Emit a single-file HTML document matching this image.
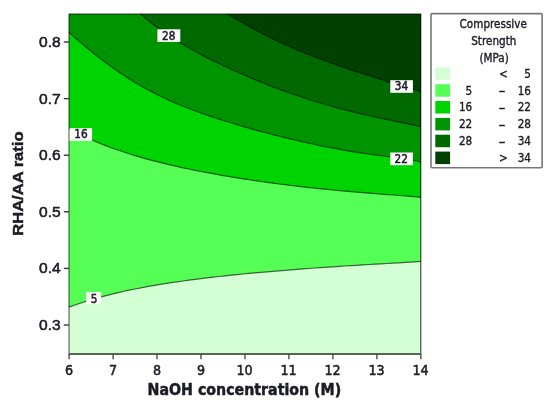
<!DOCTYPE html>
<html lang="en"><head><meta charset="utf-8"><title>Contour plot of compressive strength</title>
<style>
html,body{margin:0;padding:0;background:#fff;}
body{width:550px;height:404px;overflow:hidden;}
svg{display:block;}
text{fill:#1c1c24;}
.yt{font-family:"Liberation Sans","DejaVu Sans",sans-serif;font-size:15.2px;stroke:#1c1c24;stroke-width:0.55px;}
.xt{font-family:"DejaVu Sans","Liberation Sans",sans-serif;font-stretch:condensed;font-size:14.2px;stroke:#1c1c24;stroke-width:0.5px;}
.xl{font-family:"DejaVu Sans","Liberation Sans",sans-serif;font-weight:bold;font-size:14px;stroke:#1c1c24;stroke-width:0.45px;}
.yl{font-family:"Liberation Sans","DejaVu Sans",sans-serif;font-weight:bold;font-size:15px;stroke:#1c1c24;stroke-width:0.45px;}
.cl{font-family:"DejaVu Sans","Liberation Sans",sans-serif;font-stretch:condensed;font-size:11.7px;stroke:#1c1c24;stroke-width:0.5px;}
.lg{font-family:"DejaVu Sans","Liberation Sans",sans-serif;font-stretch:condensed;font-size:11.6px;stroke:#1c1c24;stroke-width:0.35px;}
.ds{font-size:14.5px;}
</style></head>
<body>
<svg width="550" height="404" viewBox="0 0 550 404">
<rect x="0" y="0" width="550" height="404" fill="#ffffff"/>
<rect x="69.0" y="14.0" width="352.0" height="341.0" fill="#004000"/>
<polygon points="227.5,14.0 233.5,17.5 239.5,21.0 245.5,24.4 251.5,27.7 257.5,31.0 263.5,34.1 269.5,37.2 275.5,40.1 281.5,43.0 287.5,45.8 293.5,48.4 299.5,51.0 305.5,53.4 311.5,55.8 317.5,58.1 323.5,60.3 329.5,62.5 335.5,64.6 341.5,66.6 347.5,68.6 353.5,70.6 359.5,72.6 365.5,74.5 371.5,76.5 377.5,78.4 383.5,80.3 389.5,82.2 395.5,84.0 401.5,85.9 407.5,87.7 413.5,89.4 419.5,91.1 421.0,91.5 421.0,355.0 69.0,355.0 69.0,14.0" fill="#006a00"/>
<polygon points="140.5,14.0 146.5,19.0 152.5,23.8 158.5,28.3 164.5,32.5 170.5,36.5 176.5,40.4 182.5,44.1 188.5,47.6 194.5,51.0 200.5,54.2 206.5,57.4 212.5,60.4 218.5,63.3 224.5,66.2 230.5,69.0 236.5,71.7 242.5,74.3 248.5,76.9 254.5,79.4 260.5,81.9 266.5,84.3 272.5,86.6 278.5,88.9 284.5,91.1 290.5,93.2 296.5,95.3 302.5,97.3 308.5,99.3 314.5,101.2 320.5,103.0 326.5,104.8 332.5,106.5 338.5,108.1 344.5,109.7 350.5,111.2 356.5,112.7 362.5,114.1 368.5,115.5 374.5,116.8 380.5,118.1 386.5,119.3 392.5,120.6 398.5,121.8 404.5,123.1 410.5,124.4 416.5,125.7 421.0,126.7 421.0,355.0 69.0,355.0 69.0,14.0" fill="#009500"/>
<polygon points="69.0,32.4 75.0,37.7 81.0,42.8 87.0,47.9 93.0,52.8 99.0,57.6 105.0,62.1 111.0,66.6 117.0,70.8 123.0,74.8 129.0,78.7 135.0,82.4 141.0,85.9 147.0,89.3 153.0,92.4 159.0,95.5 165.0,98.3 171.0,101.1 177.0,103.7 183.0,106.2 189.0,108.5 195.0,110.8 201.0,113.0 207.0,115.1 213.0,117.1 219.0,119.1 225.0,121.0 231.0,122.8 237.0,124.6 243.0,126.4 249.0,128.1 255.0,129.8 261.0,131.4 267.0,133.0 273.0,134.6 279.0,136.1 285.0,137.6 291.0,139.1 297.0,140.5 303.0,141.9 309.0,143.2 315.0,144.5 321.0,145.8 327.0,147.0 333.0,148.1 339.0,149.2 345.0,150.3 351.0,151.3 357.0,152.3 363.0,153.2 369.0,154.0 375.0,154.9 381.0,155.7 387.0,156.5 393.0,157.3 399.0,158.1 405.0,159.0 411.0,159.9 417.0,161.0 421.0,161.8 421.0,355.0 69.0,355.0" fill="#00d400"/>
<polygon points="69.0,128.8 75.0,132.0 81.0,135.0 87.0,137.8 93.0,140.5 99.0,143.0 105.0,145.4 111.0,147.7 117.0,149.8 123.0,151.8 129.0,153.8 135.0,155.6 141.0,157.4 147.0,159.1 153.0,160.7 159.0,162.2 165.0,163.7 171.0,165.1 177.0,166.5 183.0,167.8 189.0,169.0 195.0,170.3 201.0,171.5 207.0,172.6 213.0,173.7 219.0,174.8 225.0,175.8 231.0,176.9 237.0,177.8 243.0,178.8 249.0,179.7 255.0,180.6 261.0,181.5 267.0,182.3 273.0,183.2 279.0,184.0 285.0,184.7 291.0,185.5 297.0,186.2 303.0,186.9 309.0,187.6 315.0,188.2 321.0,188.8 327.0,189.4 333.0,190.0 339.0,190.6 345.0,191.1 351.0,191.7 357.0,192.2 363.0,192.7 369.0,193.2 375.0,193.6 381.0,194.1 387.0,194.6 393.0,195.0 399.0,195.5 405.0,196.0 411.0,196.4 417.0,196.9 421.0,197.3 421.0,355.0 69.0,355.0" fill="#55ff55"/>
<polygon points="69.0,307.1 75.0,305.0 81.0,303.0 87.0,301.0 93.0,299.2 99.0,297.5 105.0,295.9 111.0,294.4 117.0,292.9 123.0,291.5 129.0,290.2 135.0,289.0 141.0,287.8 147.0,286.7 153.0,285.6 159.0,284.6 165.0,283.6 171.0,282.7 177.0,281.8 183.0,281.0 189.0,280.2 195.0,279.4 201.0,278.6 207.0,277.9 213.0,277.2 219.0,276.5 225.0,275.9 231.0,275.2 237.0,274.6 243.0,274.0 249.0,273.4 255.0,272.9 261.0,272.3 267.0,271.8 273.0,271.3 279.0,270.8 285.0,270.3 291.0,269.8 297.0,269.3 303.0,268.9 309.0,268.5 315.0,268.0 321.0,267.6 327.0,267.2 333.0,266.8 339.0,266.4 345.0,266.0 351.0,265.6 357.0,265.3 363.0,264.9 369.0,264.5 375.0,264.2 381.0,263.8 387.0,263.5 393.0,263.1 399.0,262.8 405.0,262.4 411.0,262.1 417.0,261.7 421.0,261.5 421.0,355.0 69.0,355.0" fill="#d4ffd4"/>
<polyline points="227.5,14.0 233.5,17.5 239.5,21.0 245.5,24.4 251.5,27.7 257.5,31.0 263.5,34.1 269.5,37.2 275.5,40.1 281.5,43.0 287.5,45.8 293.5,48.4 299.5,51.0 305.5,53.4 311.5,55.8 317.5,58.1 323.5,60.3 329.5,62.5 335.5,64.6 341.5,66.6 347.5,68.6 353.5,70.6 359.5,72.6 365.5,74.5 371.5,76.5 377.5,78.4 383.5,80.3 389.5,82.2 395.5,84.0 401.5,85.9 407.5,87.7 413.5,89.4 419.5,91.1 421.0,91.5" fill="none" stroke="#001000" stroke-opacity="0.64" stroke-width="1.2" stroke-linejoin="round"/>
<polyline points="140.5,14.0 146.5,19.0 152.5,23.8 158.5,28.3 164.5,32.5 170.5,36.5 176.5,40.4 182.5,44.1 188.5,47.6 194.5,51.0 200.5,54.2 206.5,57.4 212.5,60.4 218.5,63.3 224.5,66.2 230.5,69.0 236.5,71.7 242.5,74.3 248.5,76.9 254.5,79.4 260.5,81.9 266.5,84.3 272.5,86.6 278.5,88.9 284.5,91.1 290.5,93.2 296.5,95.3 302.5,97.3 308.5,99.3 314.5,101.2 320.5,103.0 326.5,104.8 332.5,106.5 338.5,108.1 344.5,109.7 350.5,111.2 356.5,112.7 362.5,114.1 368.5,115.5 374.5,116.8 380.5,118.1 386.5,119.3 392.5,120.6 398.5,121.8 404.5,123.1 410.5,124.4 416.5,125.7 421.0,126.7" fill="none" stroke="#001000" stroke-opacity="0.64" stroke-width="1.2" stroke-linejoin="round"/>
<polyline points="69.0,32.4 75.0,37.7 81.0,42.8 87.0,47.9 93.0,52.8 99.0,57.6 105.0,62.1 111.0,66.6 117.0,70.8 123.0,74.8 129.0,78.7 135.0,82.4 141.0,85.9 147.0,89.3 153.0,92.4 159.0,95.5 165.0,98.3 171.0,101.1 177.0,103.7 183.0,106.2 189.0,108.5 195.0,110.8 201.0,113.0 207.0,115.1 213.0,117.1 219.0,119.1 225.0,121.0 231.0,122.8 237.0,124.6 243.0,126.4 249.0,128.1 255.0,129.8 261.0,131.4 267.0,133.0 273.0,134.6 279.0,136.1 285.0,137.6 291.0,139.1 297.0,140.5 303.0,141.9 309.0,143.2 315.0,144.5 321.0,145.8 327.0,147.0 333.0,148.1 339.0,149.2 345.0,150.3 351.0,151.3 357.0,152.3 363.0,153.2 369.0,154.0 375.0,154.9 381.0,155.7 387.0,156.5 393.0,157.3 399.0,158.1 405.0,159.0 411.0,159.9 417.0,161.0 421.0,161.8" fill="none" stroke="#001000" stroke-opacity="0.64" stroke-width="1.2" stroke-linejoin="round"/>
<polyline points="69.0,128.8 75.0,132.0 81.0,135.0 87.0,137.8 93.0,140.5 99.0,143.0 105.0,145.4 111.0,147.7 117.0,149.8 123.0,151.8 129.0,153.8 135.0,155.6 141.0,157.4 147.0,159.1 153.0,160.7 159.0,162.2 165.0,163.7 171.0,165.1 177.0,166.5 183.0,167.8 189.0,169.0 195.0,170.3 201.0,171.5 207.0,172.6 213.0,173.7 219.0,174.8 225.0,175.8 231.0,176.9 237.0,177.8 243.0,178.8 249.0,179.7 255.0,180.6 261.0,181.5 267.0,182.3 273.0,183.2 279.0,184.0 285.0,184.7 291.0,185.5 297.0,186.2 303.0,186.9 309.0,187.6 315.0,188.2 321.0,188.8 327.0,189.4 333.0,190.0 339.0,190.6 345.0,191.1 351.0,191.7 357.0,192.2 363.0,192.7 369.0,193.2 375.0,193.6 381.0,194.1 387.0,194.6 393.0,195.0 399.0,195.5 405.0,196.0 411.0,196.4 417.0,196.9 421.0,197.3" fill="none" stroke="#001000" stroke-opacity="0.64" stroke-width="1.2" stroke-linejoin="round"/>
<polyline points="69.0,307.1 75.0,305.0 81.0,303.0 87.0,301.0 93.0,299.2 99.0,297.5 105.0,295.9 111.0,294.4 117.0,292.9 123.0,291.5 129.0,290.2 135.0,289.0 141.0,287.8 147.0,286.7 153.0,285.6 159.0,284.6 165.0,283.6 171.0,282.7 177.0,281.8 183.0,281.0 189.0,280.2 195.0,279.4 201.0,278.6 207.0,277.9 213.0,277.2 219.0,276.5 225.0,275.9 231.0,275.2 237.0,274.6 243.0,274.0 249.0,273.4 255.0,272.9 261.0,272.3 267.0,271.8 273.0,271.3 279.0,270.8 285.0,270.3 291.0,269.8 297.0,269.3 303.0,268.9 309.0,268.5 315.0,268.0 321.0,267.6 327.0,267.2 333.0,266.8 339.0,266.4 345.0,266.0 351.0,265.6 357.0,265.3 363.0,264.9 369.0,264.5 375.0,264.2 381.0,263.8 387.0,263.5 393.0,263.1 399.0,262.8 405.0,262.4 411.0,262.1 417.0,261.7 421.0,261.5" fill="none" stroke="#001000" stroke-opacity="0.64" stroke-width="1.2" stroke-linejoin="round"/>
<line x1="68.4" x2="421.4" y1="14" y2="14" stroke="#000" stroke-opacity="0.75" stroke-width="1"/>
<line x1="69" x2="69" y1="14.5" y2="353.1" stroke="#000" stroke-opacity="0.55" stroke-width="1.3"/>
<line x1="420.7" x2="420.7" y1="14.5" y2="353.1" stroke="#000" stroke-opacity="0.6" stroke-width="1.4"/>
<line x1="68.4" x2="421.4" y1="354" y2="354" stroke="#000" stroke-opacity="0.6" stroke-width="1.8"/>
<line x1="63.8" x2="69.0" y1="325.0" y2="325.0" stroke="#383838" stroke-width="1.4"/>
<text class="yt" x="60.6" y="329.9" text-anchor="end" textLength="21.6" lengthAdjust="spacingAndGlyphs">0.3</text>
<line x1="63.8" x2="69.0" y1="268.4" y2="268.4" stroke="#383838" stroke-width="1.4"/>
<text class="yt" x="60.6" y="273.3" text-anchor="end" textLength="21.6" lengthAdjust="spacingAndGlyphs">0.4</text>
<line x1="63.8" x2="69.0" y1="211.8" y2="211.8" stroke="#383838" stroke-width="1.4"/>
<text class="yt" x="60.6" y="216.7" text-anchor="end" textLength="21.6" lengthAdjust="spacingAndGlyphs">0.5</text>
<line x1="63.8" x2="69.0" y1="155.2" y2="155.2" stroke="#383838" stroke-width="1.4"/>
<text class="yt" x="60.6" y="160.1" text-anchor="end" textLength="21.6" lengthAdjust="spacingAndGlyphs">0.6</text>
<line x1="63.8" x2="69.0" y1="98.6" y2="98.6" stroke="#383838" stroke-width="1.4"/>
<text class="yt" x="60.6" y="103.5" text-anchor="end" textLength="21.6" lengthAdjust="spacingAndGlyphs">0.7</text>
<line x1="63.8" x2="69.0" y1="42.0" y2="42.0" stroke="#383838" stroke-width="1.4"/>
<text class="yt" x="60.6" y="46.9" text-anchor="end" textLength="21.6" lengthAdjust="spacingAndGlyphs">0.8</text>
<line x1="69.1" x2="69.1" y1="354.5" y2="359.2" stroke="#383838" stroke-width="1.25"/>
<text class="xt" transform="translate(69.1,374.8) scale(1,1.05)" text-anchor="middle">6</text>
<line x1="113.1" x2="113.1" y1="354.5" y2="359.2" stroke="#383838" stroke-width="1.25"/>
<text class="xt" transform="translate(113.1,374.8) scale(1,1.05)" text-anchor="middle">7</text>
<line x1="157.0" x2="157.0" y1="354.5" y2="359.2" stroke="#383838" stroke-width="1.25"/>
<text class="xt" transform="translate(157.0,374.8) scale(1,1.05)" text-anchor="middle">8</text>
<line x1="201.0" x2="201.0" y1="354.5" y2="359.2" stroke="#383838" stroke-width="1.25"/>
<text class="xt" transform="translate(201.0,374.8) scale(1,1.05)" text-anchor="middle">9</text>
<line x1="245.0" x2="245.0" y1="354.5" y2="359.2" stroke="#383838" stroke-width="1.25"/>
<text class="xt" transform="translate(244.6,374.8) scale(1,1.05)" text-anchor="middle">10</text>
<line x1="288.9" x2="288.9" y1="354.5" y2="359.2" stroke="#383838" stroke-width="1.25"/>
<text class="xt" transform="translate(288.6,374.8) scale(1,1.05)" text-anchor="middle">11</text>
<line x1="332.9" x2="332.9" y1="354.5" y2="359.2" stroke="#383838" stroke-width="1.25"/>
<text class="xt" transform="translate(332.5,374.8) scale(1,1.05)" text-anchor="middle">12</text>
<line x1="376.9" x2="376.9" y1="354.5" y2="359.2" stroke="#383838" stroke-width="1.25"/>
<text class="xt" transform="translate(376.5,374.8) scale(1,1.05)" text-anchor="middle">13</text>
<line x1="420.9" x2="420.9" y1="354.5" y2="359.2" stroke="#383838" stroke-width="1.25"/>
<text class="xt" transform="translate(420.5,374.8) scale(1,1.05)" text-anchor="middle">14</text>
<text class="xl" transform="translate(147.6,394.6) scale(1,1.07)" textLength="193.6" lengthAdjust="spacingAndGlyphs">NaOH concentration (M)</text>
<text class="yl" transform="translate(23.0,235.8) rotate(-90)" x="0" y="0" textLength="104.4" lengthAdjust="spacingAndGlyphs">RHA/AA ratio</text>
<rect x="157.4" y="29.3" width="22.9" height="12.6" fill="#fff"/>
<text class="cl" x="168.8" y="39.75" text-anchor="middle">28</text>
<rect x="390.3" y="80.2" width="22.6" height="12.6" fill="#fff"/>
<text class="cl" x="401.5" y="90.35" text-anchor="middle">34</text>
<rect x="390.3" y="152.5" width="22.6" height="12.7" fill="#fff"/>
<text class="cl" x="401.3" y="163.35" text-anchor="middle">22</text>
<rect x="69.6" y="128.2" width="22.5" height="12.6" fill="#fff"/>
<text class="cl" x="80.9" y="138.45" text-anchor="middle">16</text>
<rect x="86.2" y="292.1" width="14.9" height="12.1" fill="#fff"/>
<text class="cl" x="94.0" y="303.05" text-anchor="middle">5</text>
<rect x="431" y="13.6" width="111.1" height="154.2" rx="1" fill="#fff" stroke="#787878" stroke-width="1.6"/>
<text class="lg" x="493.2" y="27.9" text-anchor="middle">Compressive</text>
<text class="lg" x="493.8" y="45.0" text-anchor="middle">Strength</text>
<text class="lg" x="494.2" y="61.7" text-anchor="middle">(MPa)</text>
<rect x="435.3" y="67.3" width="14.8" height="12.5" fill="#d4ffd4"/>
<text class="lg" x="503.4" y="77.6" text-anchor="middle">&lt;</text>
<text class="lg" x="531" y="77.6" text-anchor="end">5</text>
<rect x="435.3" y="84.2" width="14.8" height="12.5" fill="#55ff55"/>
<text class="lg" x="472.2" y="94.5" text-anchor="end">5</text>
<text class="lg ds" x="502" y="95.0" text-anchor="middle">–</text>
<text class="lg" x="531" y="94.5" text-anchor="end">16</text>
<rect x="435.3" y="101.0" width="14.8" height="12.5" fill="#00d400"/>
<text class="lg" x="472.2" y="111.3" text-anchor="end">16</text>
<text class="lg ds" x="502" y="111.8" text-anchor="middle">–</text>
<text class="lg" x="531" y="111.3" text-anchor="end">22</text>
<rect x="435.3" y="117.9" width="14.8" height="12.5" fill="#009500"/>
<text class="lg" x="472.2" y="128.2" text-anchor="end">22</text>
<text class="lg ds" x="502" y="128.7" text-anchor="middle">–</text>
<text class="lg" x="531" y="128.2" text-anchor="end">28</text>
<rect x="435.3" y="134.7" width="14.8" height="12.5" fill="#006a00"/>
<text class="lg" x="472.2" y="145.0" text-anchor="end">28</text>
<text class="lg ds" x="502" y="145.5" text-anchor="middle">–</text>
<text class="lg" x="531" y="145.0" text-anchor="end">34</text>
<rect x="435.3" y="151.6" width="14.8" height="12.5" fill="#004000"/>
<text class="lg" x="503.4" y="161.9" text-anchor="middle">&gt;</text>
<text class="lg" x="531" y="161.9" text-anchor="end">34</text>
</svg>
</body></html>
